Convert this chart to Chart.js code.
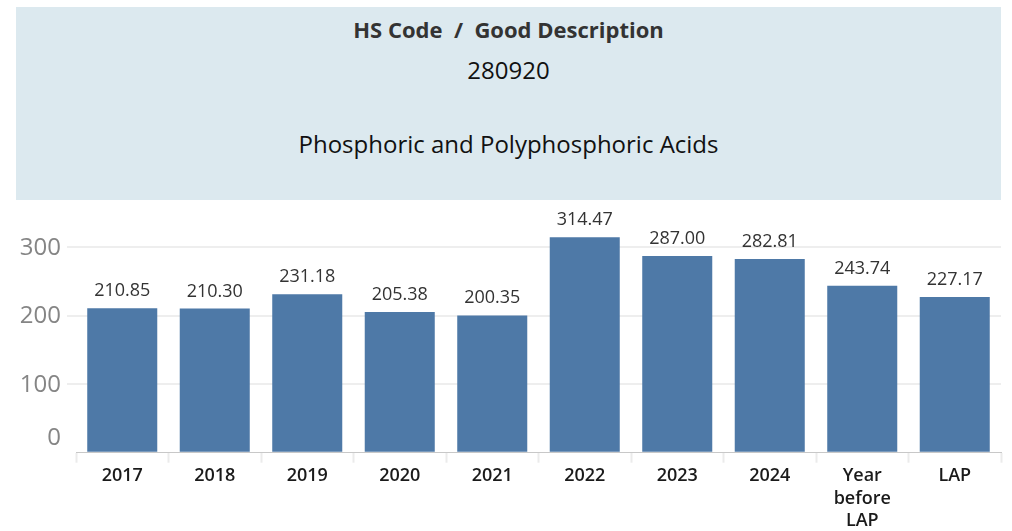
<!DOCTYPE html>
<html>
<head>
<meta charset="utf-8">
<script src="https://cdn.jsdelivr.net/npm/chart.js@4"></script>
<style>
  html, body { margin: 0; padding: 0; background: #fff; }
  body { width: 1012px; height: 531px; position: relative; overflow: hidden; font-family: "Open Sans", sans-serif; }
  #header {
    position: absolute; left: 16px; top: 7px; width: 985px; height: 193px;
    background: #dce9ef; text-align: center; color: #111;
  }
  #header div { position: absolute; left: 0; right: 0; line-height: 1; }
  #header .t1 { top: 11px; font-size: 22px; font-weight: 700; color: #333; }
  #header .t2 { top: 51px; font-size: 24px; }
  #header .t3 { top: 125px; font-size: 24px; }
  #wrap { position: absolute; left: 0; top: 200px; width: 1012px; height: 331px; }
</style>
</head>
<body>
<div id="header">
  <div class="t1">HS Code&nbsp;&nbsp;/&nbsp;&nbsp;Good Description</div>
  <div class="t2">280920</div>
  <div class="t3">Phosphoric and Polyphosphoric Acids</div>
</div>
<div id="wrap"><canvas id="barChart" width="1012" height="331"></canvas></div>
<script>
const categories = ['2017', '2018', '2019', '2020', '2021', '2022', '2023', '2024', ['Year', 'before', 'LAP'], 'LAP'];
const values = [210.85, 210.30, 231.18, 205.38, 200.35, 314.47, 287.00, 282.81, 243.74, 227.17];
const yTicks = [0, 100, 200, 300];

// value labels above bars + y axis labels (Tableau nudges the 0 label up)
const labelPlugin = {
  id: 'labels',
  afterDatasetsDraw(chart) {
    const ctx = chart.ctx;
    const meta = chart.getDatasetMeta(0);
    ctx.save();
    ctx.font = '18px "Open Sans"';
    ctx.fillStyle = '#333';
    ctx.textAlign = 'center';
    ctx.textBaseline = 'alphabetic';
    meta.data.forEach((bar, i) => {
      ctx.fillText(values[i].toFixed(2), bar.x, bar.y - 12);
    });

    const y = chart.scales.y;
    ctx.font = '24px "Open Sans"';
    ctx.fillStyle = '#858585';
    ctx.textAlign = 'right';
    ctx.textBaseline = 'middle';
    yTicks.forEach(v => {
      let py = y.getPixelForValue(v);
      if (v === 0) py -= 16;
      ctx.fillText(String(v), 61, py + 1);
    });
    ctx.restore();
  }
};

new Chart(document.getElementById('barChart').getContext('2d'), {
  type: 'bar',
  data: {
    labels: categories,
    datasets: [{
      data: values,
      backgroundColor: '#4e79a7',
      categoryPercentage: 1,
      barPercentage: 0.757
    }]
  },
  options: {
    responsive: false,
    animation: false,
    layout: { padding: { top: 6, right: 11, left: 0, bottom: 0 } },
    plugins: {
      legend: { display: false },
      tooltip: { enabled: false }
    },
    scales: {
      x: {
        grid: {
          drawOnChartArea: false,
          drawTicks: true,
          tickLength: 10,
          tickColor: '#ebebeb',
          tickWidth: 2
        },
        border: { display: true, color: '#c8c8c8', dash: [4, 3], width: 1 },
        ticks: {
          color: '#1a1a1a',
          font: { family: 'Open Sans', size: 18, weight: 600, lineHeight: 1.25 },
          padding: 2,
          maxRotation: 0,
          autoSkip: false
        },
        afterFit: s => { s.height = 78.3; }
      },
      y: {
        min: 0,
        max: 360,
        afterBuildTicks: s => { s.ticks = yTicks.map(v => ({ value: v })); },
        grid: {
          color: c => c.tick && c.tick.value === 0 ? 'rgba(0,0,0,0)' : '#eeeeee',
          tickColor: c => c.tick && c.tick.value === 0 ? 'rgba(0,0,0,0)' : '#eeeeee',
          lineWidth: 2,
          tickLength: 9
        },
        border: { display: false },
        ticks: { display: false },
        afterFit: s => { s.width = 76; }
      }
    }
  },
  plugins: [labelPlugin]
});
</script>
</body>
</html>
